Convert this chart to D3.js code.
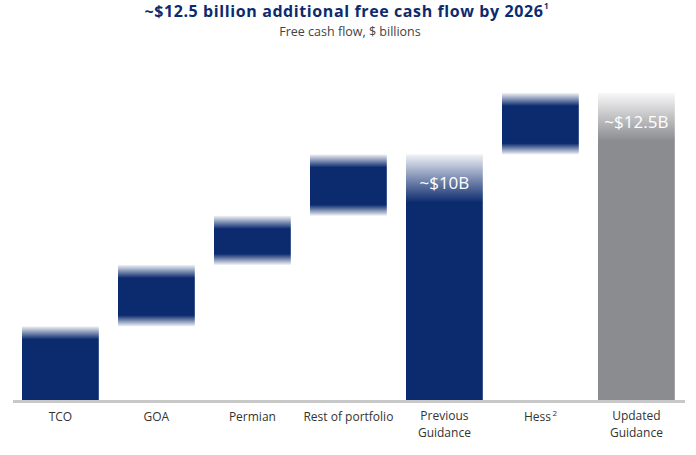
<!DOCTYPE html>
<html>
<head>
<meta charset="utf-8">
<script src="https://cdn.jsdelivr.net/npm/d3@7"></script>
<style>
  body { margin: 0; background: #fff; }
  text { font-family: "Open Sans", sans-serif; }
</style>
</head>
<body>
<div id="chart"></div>
<script>
// waterfall data, $ billions
const categories = ['TCO', 'GOA', 'Permian', 'Rest of portfolio', 'Previous Guidance', 'Hess', 'Updated Guidance'];
const values = [3, 2.5, 2, 2.5, 10, 2.5, 12.5];
const kinds = ['step', 'step', 'step', 'step', 'total', 'step', 'total'];
const totalLabels = ['', '', '', '', '~$10B', '', '~$12.5B'];

const width = 696, height = 455;
const navy = '#0c2b6f', grey = '#8b8c90';

const svg = d3.select('#chart').append('svg')
    .attr('width', width)
    .attr('height', height);

// build waterfall rows
let running = 0;
const rows = categories.map((c, i) => {
    let lo, hi;
    if (kinds[i] === 'total') { lo = 0; hi = values[i]; running = values[i]; }
    else { lo = running; hi = running + values[i]; running = hi; }
    return { cat: c, lo: lo, hi: hi, kind: kinds[i], label: totalLabels[i], idx: i };
});

const xScale = d3.scaleBand().domain(categories).range([12.4, 684.4])
    .paddingInner(0.2).paddingOuter(0.1);
const yScale = d3.scaleLinear().domain([0, 12.5]).range([400, 93]);

const defs = svg.append('defs');
rows.forEach(d => {
    const color = d.idx === 6 ? grey : navy;
    const top = yScale(d.hi), bottom = yScale(d.lo);
    const h = bottom - top;
    const topFade = d.kind === 'total' ? 48 : 13;
    const botFade = d.lo > 0 ? 11 : 0;
    const g = defs.append('linearGradient')
        .attr('id', 'grad' + d.idx)
        .attr('x1', 0).attr('y1', 0).attr('x2', 0).attr('y2', 1);
    g.append('stop').attr('offset', 0).attr('stop-color', color).attr('stop-opacity', 0.06);
    g.append('stop').attr('offset', topFade / h).attr('stop-color', color).attr('stop-opacity', 1);
    if (botFade > 0) {
        g.append('stop').attr('offset', 1 - botFade / h).attr('stop-color', color).attr('stop-opacity', 1);
        g.append('stop').attr('offset', 1).attr('stop-color', color).attr('stop-opacity', 0.06);
    } else {
        g.append('stop').attr('offset', 1).attr('stop-color', color).attr('stop-opacity', 1);
    }
});

svg.append('g')
    .selectAll('rect')
    .data(rows)
    .join('rect')
    .attr('x', d => xScale(d.cat))
    .attr('y', d => yScale(d.hi))
    .attr('width', xScale.bandwidth())
    .attr('height', d => yScale(d.lo) - yScale(d.hi))
    .attr('fill', d => `url(#grad${d.idx})`);

// total labels inside bars
svg.append('g')
    .selectAll('text')
    .data(rows.filter(d => d.label))
    .join('text')
    .attr('x', d => xScale(d.cat) + xScale.bandwidth() / 2)
    .attr('y', d => yScale(d.hi) + 35)
    .attr('text-anchor', 'middle')
    .attr('fill', '#fff')
    .style('font-size', '17px')
    .text(d => d.label);

// baseline
svg.append('line')
    .attr('x1', 13).attr('x2', 685)
    .attr('y1', yScale(0) + 1.5).attr('y2', yScale(0) + 1.5)
    .attr('stroke', '#c8c8c8')
    .attr('stroke-width', 3);

// category labels, one text per line
const catG = svg.append('g')
    .attr('fill', '#333')
    .style('font-size', '12px');
rows.forEach(d => {
    const cx = xScale(d.cat) + xScale.bandwidth() / 2;
    if (d.cat === 'Hess') {
        catG.append('text').attr('x', cx - 3).attr('y', 421)
            .attr('text-anchor', 'middle').text('Hess');
        catG.append('text').attr('x', cx + 12).attr('y', 416)
            .style('font-size', '8px').text('2');
    } else if (d.cat.includes('Guidance')) {
        const parts = d.cat.split(' ');
        catG.append('text').attr('x', cx).attr('y', 420)
            .attr('text-anchor', 'middle').text(parts[0]);
        catG.append('text').attr('x', cx).attr('y', 437)
            .attr('text-anchor', 'middle').text(parts[1]);
    } else {
        catG.append('text').attr('x', cx).attr('y', 421)
            .attr('text-anchor', 'middle').text(d.cat);
    }
});

// title
svg.append('text')
    .attr('x', 344).attr('y', 17)
    .attr('text-anchor', 'middle')
    .attr('fill', navy)
    .style('font-size', '16px')
    .style('letter-spacing', '0.6px')
    .style('font-weight', 'bold')
    .text('~$12.5 billion additional free cash flow by 2026');
svg.append('text')
    .attr('x', 544).attr('y', 9)
    .attr('fill', navy)
    .style('font-size', '8px')
    .style('font-weight', 'bold')
    .text('1');

svg.append('text')
    .attr('x', 350).attr('y', 36)
    .attr('text-anchor', 'middle')
    .attr('fill', '#444')
    .style('font-size', '12.5px')
    .text('Free cash flow, $ billions');
</script>
</body>
</html>
